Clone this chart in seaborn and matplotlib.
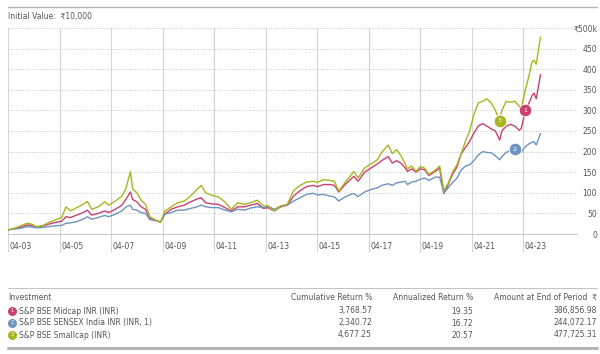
import matplotlib
matplotlib.use("Agg")
import matplotlib.pyplot as plt
import matplotlib.dates as mdates
import matplotlib.transforms as mtransforms
import seaborn as sns
import pandas as pd

# ---------------- data (values in ₹ thousands) ----------------
dates = [
    "2003-04", "2003-07", "2003-10", "2004-01", "2004-03", "2004-05", "2004-08", "2004-11",
    "2005-02", "2005-05", "2005-07", "2005-09", "2005-12", "2006-03", "2006-05", "2006-07",
    "2006-10", "2007-01", "2007-03", "2007-06", "2007-09", "2007-11", "2008-01", "2008-02",
    "2008-04", "2008-06", "2008-08", "2008-10", "2008-12", "2009-03", "2009-05", "2009-08",
    "2009-11", "2010-02", "2010-05", "2010-08", "2010-10", "2010-12", "2011-03", "2011-06",
    "2011-09", "2011-12", "2012-03", "2012-06", "2012-09", "2012-12", "2013-03", "2013-05",
    "2013-08", "2013-11", "2014-02", "2014-05", "2014-08", "2014-11", "2015-02", "2015-04",
    "2015-07", "2015-10", "2015-12", "2016-02", "2016-05", "2016-08", "2016-09", "2016-11",
    "2017-02", "2017-05", "2017-08", "2017-10", "2018-01", "2018-03", "2018-05", "2018-07",
    "2018-09", "2018-10", "2018-12", "2019-02", "2019-04", "2019-06", "2019-08", "2019-11",
    "2020-01", "2020-03", "2020-05", "2020-07", "2020-09", "2020-11", "2021-01", "2021-03",
    "2021-05", "2021-07", "2021-09", "2021-11", "2022-01", "2022-03", "2022-05", "2022-06",
    "2022-08", "2022-10", "2022-12", "2023-02", "2023-03", "2023-05", "2023-07", "2023-08",
    "2023-09", "2023-10", "2023-12",
]

midcap = [
    10, 13, 17, 22, 21, 17, 19, 24,
    28, 31, 42, 40, 46, 52, 58, 46,
    50, 56, 52, 60, 70, 85, 102, 84,
    78, 66, 60, 38, 34, 29, 48, 60,
    66, 70, 78, 85, 88, 76, 73, 72,
    64, 56, 66, 66, 70, 74, 62, 64,
    56, 66, 70, 92, 105, 115, 118, 115,
    120, 120, 118, 102, 120, 135, 140, 128,
    150, 160, 170, 178, 188, 172, 178, 172,
    160, 152, 158, 150, 158, 156, 142, 152,
    160, 98, 120, 145, 162, 195, 210, 225,
    245, 262, 268, 262, 255, 250, 228, 250,
    262, 266, 262, 252, 255, 300, 322, 335,
    342, 328, 387,
]

sensex = [
    10, 12, 14, 18, 17, 15, 16, 18,
    20, 21, 26, 27, 30, 36, 42, 36,
    40, 45, 42, 48, 56, 66, 70, 60,
    58, 52, 50, 35, 33, 30, 48, 52,
    58, 58, 62, 66, 70, 66, 64, 64,
    58, 54, 60, 58, 63, 66, 64, 68,
    60, 68, 70, 80, 88, 96, 99, 95,
    96, 92, 90, 80, 90, 97, 98, 91,
    102, 108, 112, 118, 122, 118, 124, 126,
    128, 120, 126, 128, 133, 136, 130, 138,
    138, 100, 112, 125, 135, 155, 165, 168,
    178, 192, 200, 198, 197, 190, 180, 188,
    198, 202, 206, 200, 198, 212, 220, 222,
    224, 216, 244,
]

smallcap = [
    10, 14, 20, 26, 24, 18, 20, 28,
    34, 40, 66, 56, 64, 72, 79, 60,
    66, 78, 70, 80, 92, 112, 152, 110,
    100, 82, 72, 42, 36, 28, 55, 66,
    76, 80, 92, 108, 118, 100, 94, 90,
    78, 60, 76, 72, 76, 82, 68, 68,
    56, 68, 72, 105, 118, 126, 128, 125,
    132, 130, 128, 104, 125, 145, 152, 136,
    160, 170, 180, 198, 216, 195, 205, 190,
    170, 158, 165, 152, 164, 160, 145, 155,
    165, 105, 123, 150, 168, 195, 225, 250,
    290, 318, 322, 328, 318, 300, 275, 300,
    322, 320, 322, 310, 305, 350, 392, 418,
    422, 412, 478,
]

names = ["S&P BSE Midcap INR (INR)", "S&P BSE SENSEX India INR (INR, 1)", "S&P BSE Smallcap (INR)"]
cum_return = [3768.57, 2340.72, 4677.25]
ann_return = [19.35, 16.72, 20.57]
end_amount = [386856.98, 244072.17, 477725.31]
marker_dates = ["2023-05", "2022-12", "2022-05"]

colors = ["#c9416f", "#6f93c2", "#a9b51f"]

# ---------------- frame ----------------
df = pd.DataFrame({
    "Date": pd.to_datetime(dates * 3),
    "Value": midcap + sensex + smallcap,
    "Series": [names[0]] * len(dates) + [names[1]] * len(dates) + [names[2]] * len(dates),
})

sns.set_theme(style="white")
plt.rcParams["font.family"] = ["Liberation Sans Narrow", "DejaVu Sans"]
txt = "#555555"
grid = "#d4d4d4"

fig = plt.figure(figsize=(6.0, 3.54), dpi=100)
W, H = 600, 354

# overlay in pixel coords for header and table
ov = fig.add_axes([0, 0, 1, 1], zorder=0)
ov.set_xlim(0, W)
ov.set_ylim(H, 0)
ov.axis("off")

ax = fig.add_axes([8 / W, 1 - 234 / H, (577 - 8) / W, (234 - 28) / H], zorder=1)
ax.patch.set_alpha(0)

sns.lineplot(data=df, x="Date", y="Value", hue="Series", palette=colors, ax=ax,
             linewidth=1.0, legend=False, estimator=None)

ax.set_ylim(0, 500)
ax.set_xlim(pd.Timestamp("2003-04-01"), pd.Timestamp("2025-05-01"))
ax.set_xlabel("")
ax.set_ylabel("")

# y axis on the right
ax.yaxis.tick_right()
ax.set_yticks(range(0, 501, 50))
ax.set_yticklabels(["0"] + [str(v) for v in range(50, 500, 50)] + ["₹500k"])
ax.tick_params(axis="y", length=0, pad=14.5, labelsize=5.5, labelcolor=txt)
for lab in ax.get_yticklabels():
    lab.set_horizontalalignment("right")
ax.yaxis.grid(True, color="#c8c8c8", linestyle=(0, (1, 1.5)), linewidth=0.7)

# x axis ticks: long grey lines, labels beside them
xt = pd.to_datetime([f"{y}-04-01" for y in range(2003, 2024, 2)])
ax.set_xticks(xt)
ax.xaxis.set_major_formatter(mdates.DateFormatter("%m-%y"))
ax.tick_params(axis="x", direction="out", length=13, width=0.8, color=grid,
               pad=-7.5, labelsize=5.5, labelcolor=txt, bottom=True)
shift = mtransforms.ScaledTranslation(1.5 / 100, 0, fig.dpi_scale_trans)
for lab in ax.get_xticklabels():
    lab.set_horizontalalignment("left")
    lab.set_transform(lab.get_transform() + shift)
ax.xaxis.grid(True, color=grid, linestyle="-", linewidth=0.8)

for s in ["top", "left", "right"]:
    ax.spines[s].set_visible(False)
ax.spines["bottom"].set_color("#c8c8c8")
ax.spines["bottom"].set_linewidth(0.8)

# numbered badges on the lines
series_vals = [midcap, sensex, smallcap]
for i, (d, vals) in enumerate(zip(marker_dates, series_vals)):
    y = vals[dates.index(d)]
    xd = pd.Timestamp(d + "-01")
    ax.plot([xd], [y], marker="o", markersize=9, color=colors[i], markeredgecolor="white",
            markeredgewidth=0.6, zorder=5)
    ax.text(xd, y, str(i + 1), color="white", fontsize=4.5, ha="center", va="center", zorder=6)

# header
ov.plot([8, 597], [7, 7], color="#b4b4b4", linewidth=1.0)
ov.text(8, 17, "Initial Value:  ₹10,000", fontsize=5.5, color=txt, va="center", ha="left")

# table
ov.plot([8, 597], [288, 288], color="#c4c4c4", linewidth=0.8)
ov.text(8, 297, "Investment", fontsize=5.5, color=txt, va="center")
ov.text(372, 297, "Cumulative Return %", fontsize=5.5, color=txt, va="center", ha="right")
ov.text(473, 297, "Annualized Return %", fontsize=5.5, color=txt, va="center", ha="right")
ov.text(597, 297, "Amount at End of Period  ₹", fontsize=5.5, color=txt, va="center", ha="right")
for i in range(3):
    yy = 311 + 12 * i
    ov.plot([12], [yy], marker="o", markersize=6.5, color=colors[i], markeredgewidth=0)
    ov.text(12, yy, str(i + 1), fontsize=3.5, color="white", ha="center", va="center")
    ov.text(19, yy, names[i], fontsize=5.5, color=txt, va="center")
    ov.text(372, yy, f"{cum_return[i]:,.2f}", fontsize=5.5, color=txt, va="center", ha="right")
    ov.text(473, yy, f"{ann_return[i]:,.2f}", fontsize=5.5, color=txt, va="center", ha="right")
    ov.text(597, yy, f"{end_amount[i]:,.2f}", fontsize=5.5, color=txt, va="center", ha="right")
ov.plot([8, 597], [348, 348], color="#b4b4b4", linewidth=2.2)

fig.savefig("out.png", dpi=100)
